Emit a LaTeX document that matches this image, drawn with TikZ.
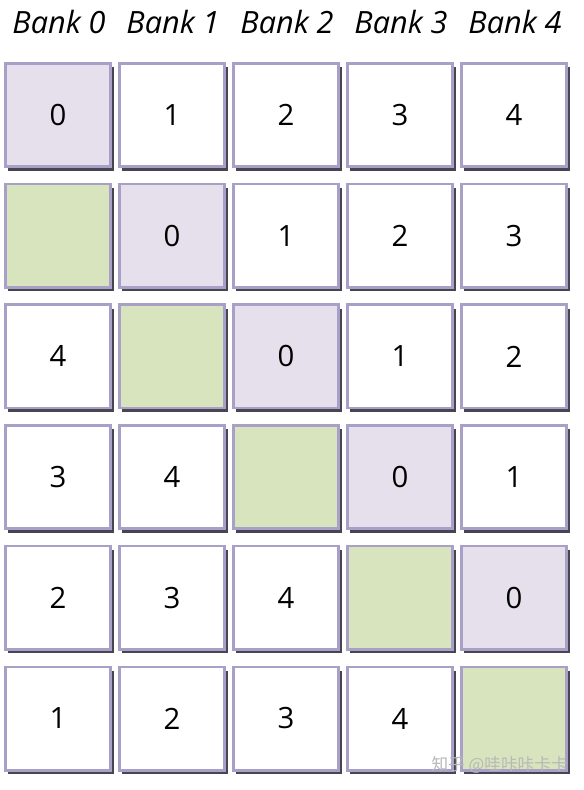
\documentclass[tikz,border=0pt]{standalone}
\usepackage{fontspec}
\setsansfont{Open Sans}
\newfontfamily\cjk{Noto Sans CJK SC}
\usetikzlibrary{shadows}

\definecolor{cellborder}{RGB}{169,160,200}
\definecolor{cellshadow}{RGB}{72,68,82}
\definecolor{hitfill}{RGB}{230,224,236}
\definecolor{freefill}{RGB}{215,228,189}

\tikzset{
  cell/.style={draw=cellborder, line width=2pt, fill=white,
    minimum width=79pt, minimum height=77.5pt, inner sep=0pt,
    font=\sffamily\fontsize{22}{26}\selectfont,
    general shadow={shadow xshift=2.2pt, shadow yshift=-3pt, fill=cellshadow}},
  hitcell/.style={cell, fill=hitfill},
  freecell/.style={cell, fill=freefill},
  banklabel/.style={font=\sffamily\itshape\fontsize{23}{26}\selectfont, inner sep=0pt}
}

\begin{document}
\begin{tikzpicture}[x=0.75pt,y=0.75pt,yscale=-1,xscale=1]
\useasboundingbox (0,0) rectangle (584,790);

% Bank headers
\foreach \j in {0,...,4}
  \node [banklabel] (bank\j) at ({59+114*\j},22) {Bank \j};

% Cells: row i, column j holds (j-i) mod 6
\foreach \i in {0,...,5}
  \foreach \j in {0,...,4}{
    \pgfmathtruncatemacro{\v}{mod(\j-\i+6,6)}
    \ifnum\v=0
      \node [hitcell] (c\i\j) at ({58+114*\j},{115+120.7*\i}) {0};
    \else\ifnum\v=5
      \node [freecell] (c\i\j) at ({58+114*\j},{115+120.7*\i}) {};
    \else
      \node [cell] (c\i\j) at ({58+114*\j},{115+120.7*\i}) {\v};
    \fi\fi
  }

% Watermark
\node [font=\cjk\fontsize{12.5}{14}\selectfont, text=white!72!black, anchor=east, inner sep=0pt] (mark) at (568,765) {知乎 @哇咔咔卡卡};

\end{tikzpicture}
\end{document}
